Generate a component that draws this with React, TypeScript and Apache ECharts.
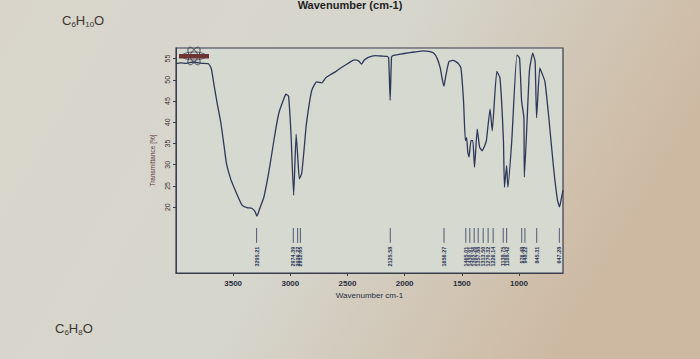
import React, { useEffect, useRef } from "react";
import * as echarts from "echarts";

// Spectrum (wavenumber cm-1, transmittance %)
const wavenumbers = [
  4000, 3960, 3911, 3850, 3776, 3715, 3690, 3668, 3640, 3606, 3580, 3558, 3520, 3482, 3450, 3422,
  3380, 3334, 3310, 3292, 3270, 3231, 3190, 3158, 3130, 3099, 3060, 3039, 3016, 2994, 2971, 2949,
  2932, 2921, 2901, 2880, 2860, 2815, 2790, 2770, 2725, 2690, 2650, 2600, 2559, 2500, 2439, 2400,
  2378, 2355, 2318, 2258, 2200, 2153, 2140, 2127, 2115, 2102, 2050, 1957, 1900, 1837, 1790, 1747,
  1715, 1689, 1670, 1656, 1640, 1612, 1580, 1552, 1530, 1508, 1485, 1469, 1458, 1448, 1437, 1420,
  1404, 1389, 1365, 1344, 1321, 1300, 1285, 1253, 1234, 1194, 1166, 1136, 1127, 1108, 1097, 1063,
  1018, 995, 977, 957, 953, 909, 880, 859, 846, 818, 794, 773, 742, 698, 663, 645, 630, 615,
];
const transmittance = [
  53.8, 54.0, 53.9, 54.2, 53.9, 53.8, 52.5, 48.9, 44.5, 39.6, 34.5, 30.2, 26.5, 24.0, 22.0, 20.5,
  19.9, 19.7, 19.0, 17.9, 19.5, 22.4, 28.0, 33.3, 38.0, 42.3, 45.3, 46.6, 46.2, 37.2, 22.8, 37.2,
  30.5, 26.7, 27.9, 33.5, 39.5, 47.3, 48.8, 49.5, 49.3, 50.5, 51.2, 52.0, 52.8, 53.8, 54.7, 54.4,
  53.7, 54.6, 55.3, 55.7, 55.6, 55.5, 55.2, 45.2, 55.3, 55.7, 56.0, 56.4, 56.6, 56.8, 56.7, 56.3,
  55.0, 52.8, 50.0, 48.5, 51.0, 54.3, 54.6, 54.3, 53.8, 52.8, 45.0, 35.7, 36.4, 33.0, 31.8, 35.7,
  35.7, 29.4, 38.4, 34.1, 33.3, 34.5, 35.7, 43.1, 38.0, 52.0, 50.4, 35.7, 24.7, 29.8, 24.7, 35.7,
  55.9, 55.1, 45.0, 41.1, 27.1, 52.0, 56.3, 54.3, 41.1, 52.8, 51.2, 49.6, 41.9, 29.4, 21.6, 20.1,
  22.0, 24.0,
];

// Peak picking labels
const peakWavenumbers = [
  3295, 2974, 2936, 2912, 2126, 1656, 1465, 1430, 1392, 1357, 1313, 1270, 1226, 1138, 1108, 976,
  948, 845, 647,
];
const peakLabels = [
  "3295.21", "2974.39", "2936.77", "2912.05", "2125.58", "1656.27", "1465.01", "1430.91",
  "1392.26", "1357.88", "1313.50", "1270.32", "1226.14", "1138.75", "1108.42", "976.48",
  "948.22", "845.31", "647.28",
];

const xTicks = [3500, 3000, 2500, 2000, 1500, 1000];
const yTicks = [20, 25, 30, 35, 40, 45, 50, 55];

const INK = "#2e3858";
const FONT = "Liberation Sans";

export default function App() {
  const ref = useRef<HTMLDivElement>(null);
  useEffect(() => {
    if (!ref.current) return;
    const chart = echarts.init(ref.current, null, { renderer: "svg" });
    const lineData = wavenumbers.map((w, i) => [w, transmittance[i]]);
    const peakData = peakWavenumbers.map((w) => [w, 15]);
    chart.setOption({
      animation: false,
      backgroundColor: new echarts.graphic.LinearGradient(0, 0, 1, 0.3, [
        { offset: 0, color: "#d9d5cb" },
        { offset: 0.55, color: "#d6d6cd" },
        { offset: 1, color: "#cdb9a2" },
      ]),
      grid: {
        left: 176,
        right: 137,
        top: 48,
        bottom: 86,
        show: true,
        backgroundColor: "#d6d9d0",
        borderColor: "#3a3d4e",
        borderWidth: 1.2,
      },
      xAxis: {
        type: "value",
        inverse: true,
        min: 615,
        max: 4000,
        name: "Wavenumber cm-1",
        nameLocation: "middle",
        nameGap: 17,
        nameTextStyle: { fontFamily: FONT, fontSize: 8, color: "#2a2d3e" },
        axisLine: { show: true, lineStyle: { color: "#3a3d4e" } },
        axisTick: { show: true, length: 3, customValues: xTicks, lineStyle: { color: "#3a3d4e" } },
        axisLabel: {
          customValues: xTicks,
          formatter: (v: number) => String(v),
          fontFamily: FONT,
          fontSize: 8,
          fontWeight: "bold",
          color: "#2a2d3e",
          margin: 6,
        },
        splitLine: { show: false },
      },
      yAxis: {
        type: "value",
        min: 4.5,
        max: 57.5,
        name: "Transmittance [%]",
        nameLocation: "middle",
        nameGap: 20,
        nameRotate: 90,
        nameTextStyle: { fontFamily: FONT, fontSize: 6.5, color: "#5a3838" },
        axisLine: { show: true, lineStyle: { color: "#3a3d4e" } },
        axisTick: { show: true, length: 3, customValues: yTicks, lineStyle: { color: "#3a3d4e" } },
        axisLabel: {
          customValues: yTicks,
          formatter: (v: number) => String(v),
          rotate: 90,
          fontFamily: FONT,
          fontSize: 7,
          color: "#3a2e2e",
          margin: 5,
        },
        splitLine: { show: false },
      },
      series: [
        {
          type: "line",
          data: lineData,
          showSymbol: false,
          smooth: 0.15,
          lineStyle: { color: INK, width: 1.3 },
        },
        {
          type: "custom",
          data: peakData,
          encode: { x: 0, y: 1 },
          clip: false,
          renderItem: (params: any, api: any) => {
            const wn = api.value(0);
            const p1 = api.coord([wn, 15.1]);
            const p2 = api.coord([wn, 11.6]);
            const pt = api.coord([wn, 10.7]);
            return {
              type: "group",
              children: [
                {
                  type: "line",
                  shape: { x1: p1[0], y1: p1[1], x2: p2[0], y2: p2[1] },
                  style: { stroke: INK, lineWidth: 0.8 },
                },
                {
                  type: "text",
                  x: pt[0],
                  y: pt[1],
                  rotation: Math.PI / 2,
                  style: {
                    text: peakLabels[params.dataIndex],
                    fontFamily: FONT,
                    fontSize: 5.5,
                    fontWeight: "bold",
                    fill: INK,
                    align: "right",
                    verticalAlign: "middle",
                  },
                },
              ],
            };
          },
        },
      ],
      graphic: [
        {
          type: "text",
          left: "center",
          x: 380,
          y: 5,
          style: {
            text: "Wavenumber (cm-1)",
            x: 0,
            fontFamily: FONT,
            fontSize: 11,
            fontWeight: "bold",
            fill: "#1f1f24",
            align: "center",
            verticalAlign: "middle",
          },
        },
        {
          type: "text",
          x: 62,
          y: 20,
          style: {
            text: "{a|C}{s|6}{a|H}{s|10}{a|O}",
            verticalAlign: "middle",
            rich: {
              a: { fontFamily: FONT, fontSize: 13, fill: "#3b3530", lineHeight: 16, verticalAlign: "middle" },
              s: { fontFamily: FONT, fontSize: 8, fill: "#3b3530", lineHeight: 16, verticalAlign: "bottom" },
            },
          },
        },
        {
          type: "text",
          x: 55,
          y: 328,
          style: {
            text: "{a|C}{s|6}{a|H}{s|8}{a|O}",
            verticalAlign: "middle",
            rich: {
              a: { fontFamily: FONT, fontSize: 13, fill: "#3b3530", lineHeight: 16, verticalAlign: "middle" },
              s: { fontFamily: FONT, fontSize: 8, fill: "#3b3530", lineHeight: 16, verticalAlign: "bottom" },
            },
          },
        },
        {
          type: "group",
          x: 194,
          y: 56,
          children: [
            { type: "ellipse", shape: { cx: 0, cy: 0, rx: 12, ry: 4 }, style: { fill: "none", stroke: "#3a3d4e", lineWidth: 0.8 } },
            { type: "ellipse", rotation: Math.PI / 3, shape: { cx: 0, cy: 0, rx: 10, ry: 4 }, style: { fill: "none", stroke: "#3a3d4e", lineWidth: 0.8 } },
            { type: "ellipse", rotation: -Math.PI / 3, shape: { cx: 0, cy: 0, rx: 10, ry: 4 }, style: { fill: "none", stroke: "#3a3d4e", lineWidth: 0.8 } },
            { type: "rect", shape: { x: -15, y: -2, width: 30, height: 4.5 }, style: { fill: "#6e3434" } },
          ],
        },
      ],
    });
    return () => chart.dispose();
  }, []);
  return <div ref={ref} style={{ position: "fixed", left: 0, top: 0, width: 700, height: 359 }} />;
}
